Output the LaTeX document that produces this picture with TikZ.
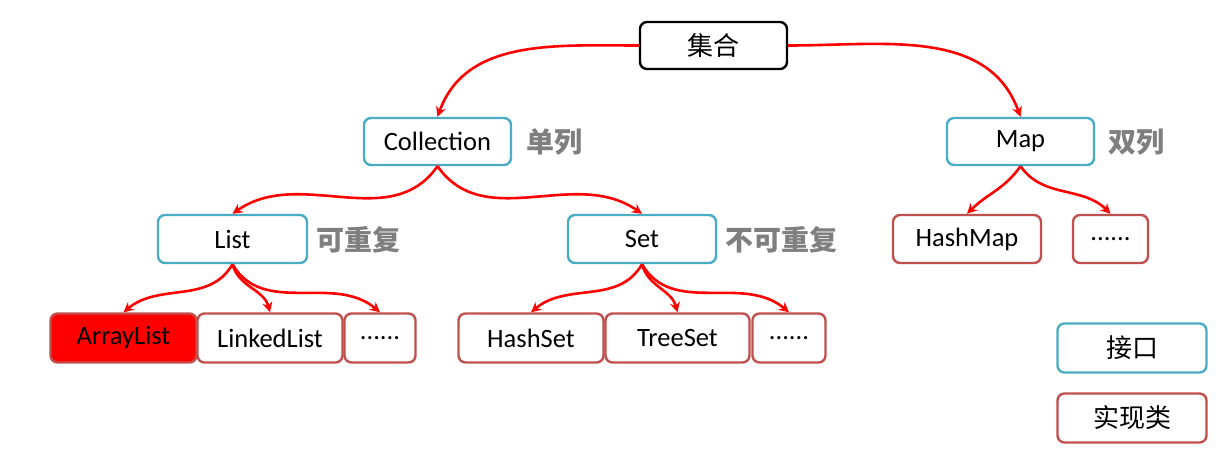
\documentclass[tikz,border=0pt]{standalone}
\usepackage{fontspec}
\setmainfont{Carlito}
\newfontfamily\cjk{Noto Sans CJK SC}
\usetikzlibrary{arrows.meta}
\definecolor{ifblue}{HTML}{4BACC6}
\definecolor{imred}{HTML}{C0504D}
\definecolor{lblgray}{HTML}{7F7F7F}
\tikzset{
  box/.style={rounded corners=7pt, fill=white, line width=2.4pt, inner sep=0pt,
    font=\fontsize{26.5}{30}\selectfont, text=black},
  iface/.style={box, draw=ifblue, minimum width=147pt, minimum height=47pt},
  impl/.style={box, draw=imred, minimum height=49pt},
  lbl/.style={font=\cjk\bfseries\fontsize{28}{32}\selectfont, text=lblgray},
  arr/.style={draw=red, line width=2.6pt, -{Stealth[length=10pt,width=10pt]}},
}
\begin{document}
\begin{tikzpicture}[x=1pt,y=1pt]
\useasboundingbox (0,0) rectangle (1231,-451);
% nodes
\node[box, draw=black, minimum width=147pt, minimum height=47pt, font=\cjk\fontsize{26}{28}\selectfont] (jihe) at (713.5,-45.5) {集合};
\node[iface] (coll) at (437.5,-141.5) {Collection};
\node[iface] (map) at (1020.5,-141.5) {Map};
\node[iface, minimum width=149pt, minimum height=48pt] (list) at (232.5,-239) {List};
\node[iface, minimum width=148pt, minimum height=48pt] (set) at (642,-239) {Set};
\node[impl, minimum width=148pt, minimum height=48pt] (hashmap) at (967,-239) {HashMap};
\node[impl, minimum width=75pt, minimum height=48pt] (mapdots) at (1110.5,-239) {......};
\node[impl, minimum width=146pt, fill=red] (arraylist) at (123.5,-338) {ArrayList};
\node[impl, minimum width=145pt] (linkedlist) at (270,-338) {LinkedList};
\node[impl, minimum width=71pt] (listdots) at (380,-338) {......};
\node[impl, minimum width=145pt] (hashset) at (531,-338) {HashSet};
\node[impl, minimum width=144pt] (treeset) at (677.5,-338) {TreeSet};
\node[impl, minimum width=73pt] (setdots) at (789,-338) {......};
\node[iface, minimum width=149pt, minimum height=49pt, font=\cjk\fontsize{26}{28}\selectfont] (legif) at (1132,-348) {接口};
\node[impl, minimum width=149pt, font=\cjk\fontsize{26}{28}\selectfont] (legim) at (1132,-418) {实现类};
% labels
\node[lbl] (l1) at (554,-142) {单列};
\node[lbl] (l2) at (1136,-142) {双列};
\node[lbl] (l3) at (358,-240) {可重复};
\node[lbl] (l4) at (781,-240) {不可重复};
% connectors
\draw[arr] (jihe.west) to[out=180,in=70] (coll.north);
\draw[arr] (jihe.east) to[out=0,in=110] (map.north);
\draw[arr] (coll.south) to[out=235,in=35] (list.north);
\draw[arr] (coll.south) to[out=-55,in=145] (set.north);
\draw[arr] (map.south) to[out=235,in=45] (hashmap.north);
\draw[arr] (map.south) to[out=-55,in=135] (mapdots.north);
\draw[arr] (list.south) to[out=240,in=40] (arraylist.north);
\draw[arr] (list.south) to[out=-75,in=105] (linkedlist.north);
\draw[arr] (list.south) to[out=-60,in=140] (listdots.north);
\draw[arr] (set.south) to[out=240,in=40] (hashset.north);
\draw[arr] (set.south) to[out=-75,in=105] (treeset.north);
\draw[arr] (set.south) to[out=-60,in=140] (setdots.north);
\end{tikzpicture}
\end{document}
